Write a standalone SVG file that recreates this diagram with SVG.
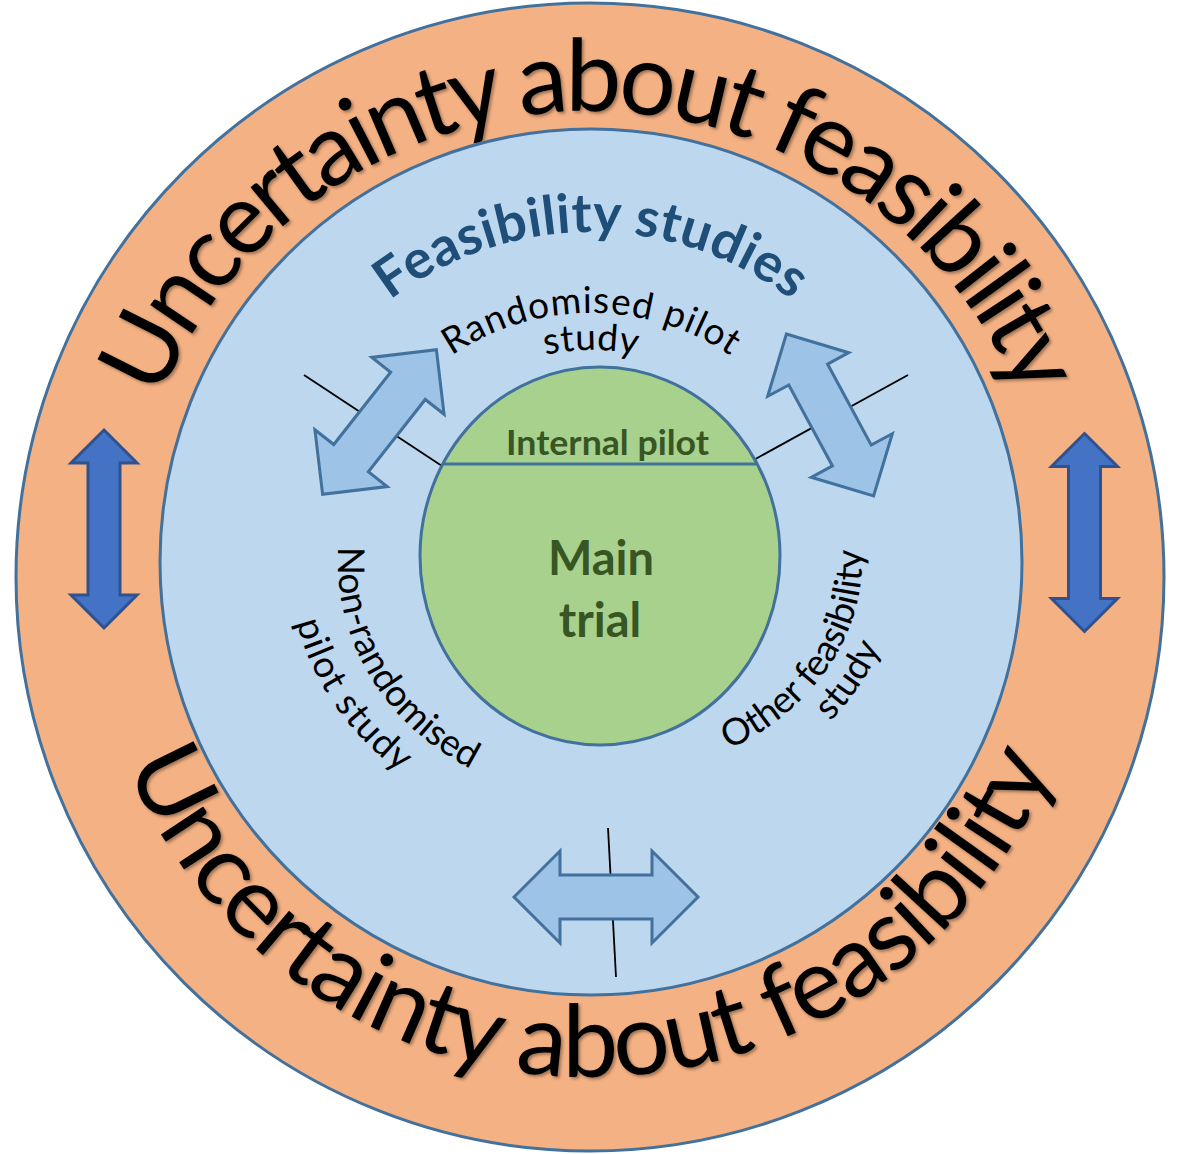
<svg xmlns="http://www.w3.org/2000/svg" xmlns:xlink="http://www.w3.org/1999/xlink" width="1181" height="1154" viewBox="0 0 1181 1154">
<style>
  .ring { stroke: #41719C; stroke-width: 3; }
  .big { font-family: Lato, "Liberation Sans", sans-serif; font-size: 100px; fill: #000; }
  .lbl { font-family: Lato, "Liberation Sans", sans-serif; font-size: 37px; fill: #000; }
  .fs { font-family: Lato, "Liberation Sans", sans-serif; font-size: 54px; font-weight: bold; fill: #1F4E79; }
  .grn { font-family: Lato, "Liberation Sans", sans-serif; font-weight: bold; fill: #375623; }
  .la { fill: #9DC3E6; stroke: #41719C; stroke-width: 3; stroke-linejoin: miter; }
  .da { fill: #4472C4; stroke: #2F528F; stroke-width: 3; }
  .sep { stroke: #000; stroke-width: 1.8; fill: none; }
</style>
<defs>
  <filter id="sh" x="-5%" y="-5%" width="110%" height="110%">
    <feDropShadow dx="2" dy="2" stdDeviation="1.5" flood-color="#000" flood-opacity="0.35"/>
  </filter>
  <path id="dbl" d="M -92 0 L -46 -46 L -46 -22 L 46 -22 L 46 -46 L 92 0 L 46 46 L 46 22 L -46 22 L -46 46 Z"/>
  <path id="vdbl" d="M 0 -99 L 33 -66 L 16 -66 L 16 66 L 33 66 L 0 99 L -33 66 L -16 66 L -16 -66 L -33 -66 Z"/>
  <path id="pTop" d="M 124 577 A 466 466 0 0 1 1056 577"/>
  <path id="pBot" d="M 90 577 A 500 500 0 0 0 1090 577"/>
  <path id="pFS" d="M 261 562 A 330 330 0 0 1 921 562"/>
  <path id="pRP1" d="M 342 562 A 249 249 0 0 1 840 562"/>
  <path id="pRP2" d="M 379 562 A 212 212 0 0 1 803 562"/>
  <path id="pNR1" d="M 397.2 410.9 A 253 235 0 0 0 634.9 793.4"/>
  <path id="pNR2" d="M 359.7 387.8 A 302 271 0 0 0 643.4 828.9"/>
  <path id="pOF1" d="M 539.3 776.0 A 271 218 0 0 0 801.6 424.8"/>
  <path id="pOF2" d="M 540.9 812.6 A 307 254 0 0 0 824.2 396.7"/>
</defs>

<g id="uncertainty-ring">
  <circle cx="590" cy="577" r="574" fill="#F4B183" class="ring"/>
  <text class="big" filter="url(#sh)"><textPath href="#pTop" xlink:href="#pTop" startOffset="50%" text-anchor="middle" textLength="1100" lengthAdjust="spacing">Uncertainty about feasibility</textPath></text>
  <text class="big" filter="url(#sh)"><textPath href="#pBot" xlink:href="#pBot" startOffset="50%" text-anchor="middle" textLength="1185" lengthAdjust="spacing">Uncertainty about feasibility</textPath></text>
</g>

<g id="feasibility-studies">
  <ellipse cx="591" cy="562" rx="431" ry="433" fill="#BDD7EE" class="ring"/>
  <text class="fs"><textPath href="#pFS" xlink:href="#pFS" startOffset="50%" text-anchor="middle" textLength="432" lengthAdjust="spacing">Feasibility studies</textPath></text>
</g>

<g id="connectors">
  <line class="sep" x1="304" y1="375" x2="442" y2="466"/>
  <line class="sep" x1="908" y1="375" x2="750" y2="462"/>
  <line class="sep" x1="608" y1="828" x2="616" y2="977"/>
  <use href="#dbl" xlink:href="#dbl" class="la" transform="translate(379.5 422) rotate(-51.8)"/>
  <use href="#dbl" xlink:href="#dbl" class="la" transform="translate(830 415) rotate(61.7)"/>
  <use href="#dbl" xlink:href="#dbl" class="la" transform="translate(606 897)"/>
  <use href="#vdbl" xlink:href="#vdbl" class="da" transform="translate(104 529)"/>
  <use href="#vdbl" xlink:href="#vdbl" class="da" transform="translate(1084.5 532.5)"/>
</g>

<g id="main-trial">
  <ellipse cx="600" cy="556" rx="180" ry="189" fill="#A9D18E" class="ring"/>
  <line x1="442" y1="464" x2="757" y2="464" stroke="#41719C" stroke-width="3"/>
  <text class="grn" x="607.5" y="455" font-size="34" text-anchor="middle" textLength="203" lengthAdjust="spacingAndGlyphs">Internal pilot</text>
  <text class="grn" x="601" y="575" font-size="47" text-anchor="middle">Main</text>
  <text class="grn" x="600" y="637" font-size="47" text-anchor="middle">trial</text>
</g>

<g id="randomised-pilot">
  <text class="lbl"><textPath href="#pRP1" xlink:href="#pRP1" startOffset="50%" text-anchor="middle" textLength="296" lengthAdjust="spacing">Randomised pilot</textPath></text>
  <text class="lbl"><textPath href="#pRP2" xlink:href="#pRP2" startOffset="50%" text-anchor="middle" textLength="92" lengthAdjust="spacing">study</textPath></text>
</g>

<g id="non-randomised-pilot">
  <text class="lbl"><textPath href="#pNR1" xlink:href="#pNR1" startOffset="48.5%" text-anchor="middle" textLength="274" lengthAdjust="spacing">Non-randomised</textPath></text>
  <text class="lbl"><textPath href="#pNR2" xlink:href="#pNR2" startOffset="49.8%" text-anchor="middle" textLength="186" lengthAdjust="spacing">pilot study</textPath></text>
</g>

<g id="other-feasibility">
  <text class="lbl"><textPath href="#pOF1" xlink:href="#pOF1" startOffset="54.5%" text-anchor="middle" textLength="255" lengthAdjust="spacing">Other feasibility</textPath></text>
  <text class="lbl"><textPath href="#pOF2" xlink:href="#pOF2" startOffset="53%" text-anchor="middle" textLength="90" lengthAdjust="spacing">study</textPath></text>
</g>
</svg>
